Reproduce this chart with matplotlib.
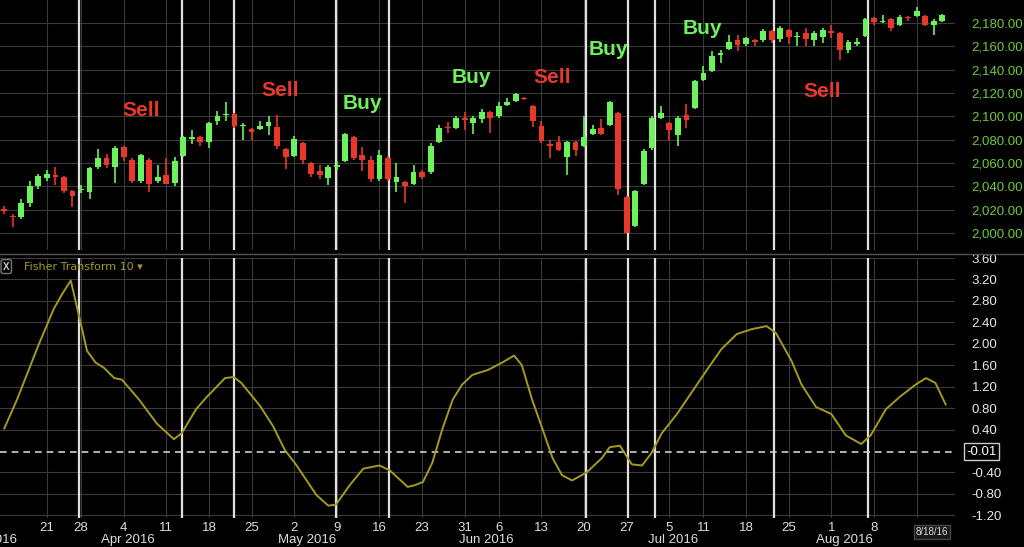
import numpy as np
import pandas as pd
import matplotlib
matplotlib.use("Agg")
import matplotlib.pyplot as plt

plt.rcParams['font.family'] = ['Liberation Sans', 'DejaVu Sans']

# ---- data ----
opens = [2021,2015,2014,2026,2040,2047,2050,2048,2036,2037,2035,2057,2064,2057,2074,2063,2045,2063,2045,2050,
         2043,2066,2081,2082,2078,2096,2101,2102,2092,2089,2089,2092,2091,2072,2066,2077,2060,2053,2047,2057,
         2062,2082,2067,2063,2046,2064,2044,2044,2042,2052,2052,2078,2091,2090,2099,2094,2098,2104,2100,2110,
         2113,2116,2109,2092,2076,2078,2065,2078,2075,2085,2090,2093,2103,2031,2006,2042,2073,2099,2094,2084,
         2101,2107,2131,2139,2153,2158,2165,2162,2165,2165,2173,2166,2174,2168,2171,2165,2168,2173,2171,2157,
         2162,2169,2184,2181,2183,2178,2185,2186,2186,2178,2182]
closes = [2019,2014,2026,2040,2049,2051,2048,2036,2032,2038,2056,2064,2058,2073,2065,2045,2067,2042,2048,2042,
          2062,2082,2082,2078,2094,2100,2102,2092,2093,2087,2092,2095,2075,2065,2081,2063,2051,2050,2057,2058,
          2085,2064,2063,2046,2067,2046,2048,2040,2052,2048,2075,2090,2090,2099,2097,2099,2104,2099,2109,2112,
          2119,2115,2096,2079,2075,2071,2078,2071,2082,2089,2085,2112,2038,2000,2036,2070,2099,2103,2088,2099,
          2097,2130,2137,2152,2154,2164,2161,2167,2164,2173,2165,2176,2168,2169,2166,2171,2174,2171,2157,2164,
          2164,2183,2181,2182,2176,2185,2184,2190,2178,2182,2187]
highs = [2023,2016,2029,2045,2051,2054,2057,2049,2037,2041,2057,2072,2068,2075,2075,2064,2068,2064,2058,2064,
         2065,2083,2088,2083,2095,2105,2112,2103,2094,2090,2096,2100,2101,2073,2083,2078,2061,2058,2058,2062,
         2086,2083,2074,2066,2071,2066,2060,2045,2058,2054,2077,2093,2095,2100,2104,2100,2106,2105,2112,2116,
         2120,2117,2110,2096,2080,2083,2079,2079,2100,2093,2098,2113,2104,2032,2037,2072,2100,2109,2095,2100,
         2111,2131,2143,2156,2157,2170,2170,2168,2166,2175,2174,2177,2175,2172,2176,2173,2176,2178,2172,2165,
         2167,2184,2185,2187,2184,2187,2186,2194,2187,2183,2188]
lows = [2016,2005,2012,2022,2038,2045,2041,2034,2022,2034,2029,2055,2056,2043,2062,2043,2043,2035,2043,2042,
        2040,2065,2076,2075,2073,2093,2096,2090,2080,2080,2088,2084,2072,2055,2065,2059,2048,2046,2041,2054,
        2061,2063,2053,2044,2045,2045,2035,2026,2041,2046,2051,2077,2086,2089,2088,2085,2094,2086,2099,2109,
        2112,2114,2091,2077,2064,2070,2050,2066,2074,2084,2084,2092,2033,2000,2005,2041,2071,2098,2080,2075,
        2090,2106,2130,2138,2146,2157,2156,2160,2160,2164,2163,2164,2162,2160,2160,2160,2163,2167,2148,2154,
        2160,2168,2178,2180,2173,2177,2182,2185,2177,2170,2181]

fisher_x = [0.0,1.5,3.9,5.8,6.8,7.8,9.0,9.7,10.7,11.7,12.9,13.8,15.8,17.9,19.9,20.8,22.5,23.7,25.9,26.9,
            27.8,30.0,31.5,32.9,34.2,36.6,38.0,38.9,40.5,42.1,44.0,45.2,46.7,47.3,48.1,49.1,50.2,51.4,52.6,53.7,
            54.9,56.7,58.4,59.8,60.7,61.9,63.1,64.3,65.4,66.6,68.3,70.1,71.0,72.2,73.6,74.8,75.9,77.1,78.9,80.6,
            82.4,84.1,85.9,87.6,89.4,90.5,92.3,93.5,95.2,97.0,98.7,100.5,101.6,103.4,105.1,106.9,108.1,109.2,110.4]
fisher_v = [0.42,0.96,1.93,2.65,2.93,3.18,2.36,1.87,1.65,1.55,1.36,1.33,0.96,0.51,0.22,0.33,0.78,1.0,1.36,1.38,
            1.27,0.84,0.47,0.02,-0.25,-0.82,-1.02,-1.0,-0.64,-0.33,-0.27,-0.36,-0.58,-0.67,-0.64,-0.58,-0.22,0.42,0.96,1.24,
            1.42,1.51,1.65,1.78,1.6,0.96,0.42,-0.13,-0.45,-0.55,-0.4,-0.13,0.07,0.1,-0.25,-0.27,-0.04,0.33,0.69,1.09,
            1.51,1.9,2.18,2.27,2.33,2.2,1.69,1.24,0.82,0.69,0.29,0.13,0.29,0.78,1.02,1.24,1.36,1.27,0.87]

signal_x = [8.8, 20.8, 26.9, 38.9, 45.1, 68.2, 73.2, 76.3, 90.3, 101.3]
signal_labels = ["Sell", "Sell", "Buy", "Buy", "Sell", "Buy", "Buy", "Sell"]
signal_lx = [16.1, 32.4, 42.0, 54.8, 64.3, 70.9, 81.9, 95.9]
signal_ly = [2105, 2122, 2111, 2133, 2133, 2157, 2175, 2121]

price_ticks = [2000, 2020, 2040, 2060, 2080, 2100, 2120, 2140, 2160, 2180]
fisher_ticks = [3.6, 3.2, 2.8, 2.4, 2.0, 1.6, 1.2, 0.8, 0.4, -0.01, -0.4, -0.8, -1.2]

# trading days Mar 14 - Aug 18 2016
days = pd.bdate_range("2016-03-14", "2016-08-18")
days = days[~days.isin(pd.to_datetime(["2016-03-25", "2016-05-30", "2016-07-04"]))]

GREEN = "#6cf25c"
RED = "#e8372b"
GOLD = "#a39a22"
GRID = "#3a3a3a"

fig = plt.figure(figsize=(10.24, 5.47), dpi=100, facecolor="black")
ax1 = fig.add_axes([0, 1 - 250 / 547, 955 / 1024, 250 / 547], facecolor="black")
ax2 = fig.add_axes([0, 1 - 518 / 547, 955 / 1024, 260 / 547], facecolor="black")

# week ticks: first trading day of each week
wk = pd.Series(range(len(days)), index=days)
week_first = wk.groupby(days.to_period("W")).first()
tick_pos = [p for p in week_first.values if p > 1]
tick_lab = [str(days[p].day) for p in tick_pos]

for ax in (ax1, ax2):
    ax.set_xlim(-0.5, 111.5)
    for p in tick_pos:
        ax.axvline(p, color=GRID, lw=0.8, zorder=0)
    for s in signal_x:
        ax.axvline(s, color="#e0e0e0", lw=1.6, zorder=1)
    for sp in ax.spines.values():
        sp.set_visible(False)
    ax.set_xticks([])
    ax.tick_params(axis="y", length=0)

# --- candles ---
ax1.set_ylim(1985.5, 2199.7)
for y in price_ticks:
    ax1.axhline(y, color=GRID, lw=0.8, zorder=0)
for i, (o, c, h, l) in enumerate(zip(opens, closes, highs, lows)):
    col = GREEN if c >= o else RED
    ax1.vlines(i, l, h, color=col, lw=1.2, zorder=2)
    bot, top = min(o, c), max(o, c)
    ax1.bar(i, max(top - bot, 0.8), bottom=bot, width=0.68, color=col, zorder=3)
for t, x, y in zip(signal_labels, signal_lx, signal_ly):
    ax1.text(x, y, t, color=GREEN if t == "Buy" else RED, fontsize=15, fontweight="bold",
             ha="center", va="center")
ax1.yaxis.tick_right()
ax1.set_yticks(price_ticks)
ax1.set_yticklabels(["{:,.2f}".format(v) for v in price_ticks], color="#6ec93c", fontsize=9.5)
ax1.tick_params(axis="y", pad=12)

# separator
fig.add_artist(plt.Line2D([0, 1], [1 - 254 / 547] * 2, color="#555555", lw=1))

# --- fisher ---
ax2.set_ylim(-1.25, 3.5)
for y in fisher_ticks:
    if y != -0.01:
        ax2.axhline(y, color=GRID, lw=0.8, zorder=0)
ax2.axhline(-0.01, color="#cfcfcf", lw=1.2, ls=(0, (4, 3)), zorder=1)
ax2.plot(fisher_x, fisher_v, color=GOLD, lw=1.4, zorder=3)
ax2.yaxis.tick_right()
ax2.set_yticks([t for t in fisher_ticks if t != -0.01])
ax2.set_yticklabels(["{:.2f}".format(t) for t in fisher_ticks if t != -0.01], color="#e8e8e8", fontsize=9.5)
ax2.tick_params(axis="y", pad=12)
ax2.text(1.012, -0.01, "-0.01", transform=ax2.get_yaxis_transform(), color="white", fontsize=9.5,
         va="center", ha="left", bbox=dict(facecolor="black", edgecolor="#cccccc", boxstyle="square,pad=0.2"))
ax2.text(3 / 955, 3.44, "X", transform=ax2.get_yaxis_transform(), color="#cccccc", fontsize=7,
         va="center", fontweight="bold", bbox=dict(facecolor="black", edgecolor="#777777", boxstyle="round,pad=0.2"))
ax2.text(24 / 955, 3.44, "Fisher Transform 10 \u25be", transform=ax2.get_yaxis_transform(), color=GOLD,
         fontsize=8, va="center", family=["DejaVu Sans"])

# x labels (pixel offsets below the lower panel); last week is hidden by the date box
xt = ax2.get_xaxis_transform()
for p, lab in zip(tick_pos[:-1], tick_lab[:-1]):
    ax2.text(p, -10 / 260, lab, transform=xt, color="#dddddd", fontsize=9.5, ha="center", va="center")
month_first = wk.groupby(days.to_period("M")).first()
for m, p in month_first.items():
    pos = -1.8 if p == 0 else p + 1.5
    ax2.text(pos, -22 / 260, m.strftime("%b %Y"), transform=xt, color="#dddddd",
             fontsize=9.5, ha="center", va="center")
ax2.text(108.8, -14 / 260, days[-1].strftime("%-m/%d/%y"), transform=xt, color="#dddddd",
         fontsize=7, ha="center", va="center",
         bbox=dict(facecolor="#1a1a1a", edgecolor="#444444", boxstyle="square,pad=0.2"))

fig.savefig("out.png", dpi=100, facecolor="black")
